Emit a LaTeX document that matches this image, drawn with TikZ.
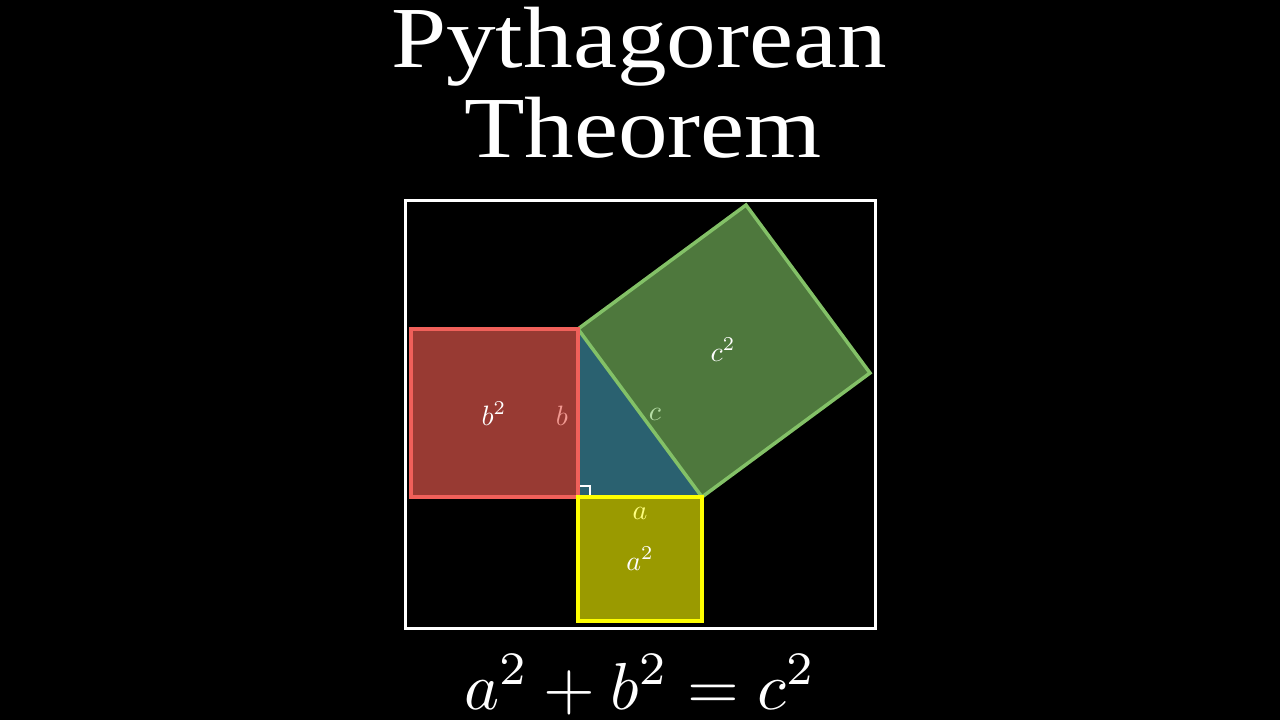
\documentclass[tikz,border=0pt]{standalone}
\usepackage{fontspec}
\setmainfont{Liberation Serif}
\definecolor{redfill}{HTML}{983A33}
\definecolor{redline}{HTML}{F0605A}
\definecolor{grnfill}{HTML}{4E783D}
\definecolor{grnline}{HTML}{83C167}
\definecolor{yelfill}{HTML}{9A9A00}
\definecolor{yelline}{HTML}{FFFF00}
\definecolor{trifill}{HTML}{2A6170}
\definecolor{blabel}{HTML}{F29A92}
\definecolor{clabel}{HTML}{B5DDA5}
\definecolor{alabel}{HTML}{FFFF80}
\newcommand{\lblmath}[1]{\scalebox{2.8}{$#1$}}
\tikzset{
  sq/.style={line width=3.5pt, line join=miter},
  lbl/.style={anchor=base, inner sep=0pt, font=\fontsize{10}{12}\selectfont},
  title/.style={anchor=base, inner sep=0pt, text=white, font=\fontsize{87}{100}\selectfont},
}
\begin{document}
\begin{tikzpicture}[x=1pt,y=-1pt]
\fill[black] (0,0) rectangle (1280,720);
\useasboundingbox (0,0) rectangle (1280,720);
% title
\node[title] (t1) at (639,67) {\scalebox{1.14}[1]{Pythagorean}};
\node[title] (t2) at (643,157) {\scalebox{1.14}[1]{Theorem}};
% frame
\draw[white, line width=3pt] (405,200) rectangle (875,628);
% vertices
\coordinate (C) at (578,497);
\coordinate (B) at (578,329);
\coordinate (A) at (702,497);
\coordinate (G1) at (870,373);
\coordinate (G2) at (746,205);
\coordinate (R1) at (411,329);
\coordinate (R2) at (411,497);
\coordinate (Y1) at (578,621);
\coordinate (Y2) at (702,621);
% triangle
\fill[trifill] (C) -- (B) -- (A) -- cycle;
% squares
\filldraw[sq, fill=grnfill, draw=grnline] (B) -- (A) -- (G1) -- (G2) -- cycle;
\filldraw[sq, fill=redfill, draw=redline] (R1) -- (B) -- (C) -- (R2) -- cycle;
\filldraw[sq, fill=yelfill, draw=yelline] (C) -- (A) -- (Y2) -- (Y1) -- cycle;
% right angle mark
\coordinate (M1) at (580,486);
\coordinate (M2) at (590,486);
\coordinate (M3) at (590,495);
\draw[white, line width=2pt] (M1) -- (M2) -- (M3);
% labels
\node[lbl, text=white] (lb2) at (494,425) {\lblmath{b^2}};
\node[lbl, text=blabel] (lb) at (562,425) {\lblmath{b}};
\node[lbl, text=clabel] (lc) at (655,420) {\lblmath{c}};
\node[lbl, text=white] (lc2) at (723,361) {\lblmath{c^2}};
\node[lbl, text=alabel] (la) at (640,519) {\lblmath{a}};
\node[lbl, text=white] (la2) at (640,570) {\lblmath{a^2}};
% equation
\node[anchor=base, inner sep=0pt, text=white, font=\fontsize{10}{12}\selectfont] (eq) at (640,709) {\scalebox{6.65}{$a^2+b^2=c^2$}};
\end{tikzpicture}
\end{document}
